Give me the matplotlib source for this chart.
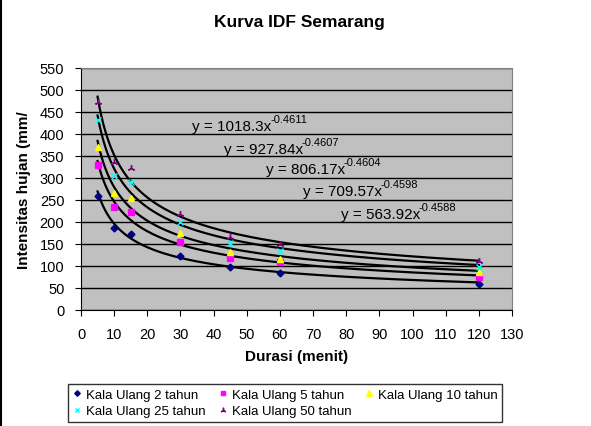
import matplotlib.pyplot as plt
import numpy as np
from matplotlib.lines import Line2D
from matplotlib.transforms import offset_copy

# durasi (menit)
durasi = [5, 10, 15, 30, 45, 60, 120]

# intensitas hujan tiap kala ulang
i_2th = [259, 186, 173, 123, 97, 84, 58]
i_5th = [329, 235, 222, 155, 119, 108, 74]
i_10th = [370, 265, 254, 174, 131, 117, 86]
i_25th = [432, 305, 292, 199, 152, 135, 97]
i_50th = [473, 336, 323, 218, 167, 149, 111]

label_seri = ['Kala Ulang 2 tahun', 'Kala Ulang 5 tahun', 'Kala Ulang 10 tahun',
              'Kala Ulang 25 tahun', 'Kala Ulang 50 tahun']

# koefisien trendline power y = a x^b
koef_a = [563.92, 709.57, 806.17, 927.84, 1018.3]
koef_b = [-0.4588, -0.4598, -0.4604, -0.4607, -0.4611]

plt.rcParams['font.family'] = ['Liberation Sans', 'DejaVu Sans']

fig = plt.figure(figsize=(5.91, 4.27), dpi=100)
ax = fig.add_axes([81 / 591, 1 - 311 / 427, (512 - 81) / 591, (311 - 69) / 427])
ax.set_facecolor('#C0C0C0')

data = [i_2th, i_5th, i_10th, i_25th, i_50th]
warna = ['#000080', '#FF00FF', '#FFFF00', '#00FFFF', '#800080']
marker = ['D', 's', '^', 'x', (3, 2, 0)]
ukuran = [3.5, 4, 5, 4, 5]

xs = np.linspace(5, 120, 200)
for a, b in zip(koef_a, koef_b):
    ax.plot(xs, a * xs ** b, color='black', lw=1.6, zorder=2)

handles = []
for y, c, m, s, lab in zip(data, warna, marker, ukuran, label_seri):
    ax.plot(durasi, y, linestyle='none', marker=m, color=c, markersize=s,
            markeredgewidth=1, zorder=3)
    handles.append(Line2D([], [], linestyle='none', marker=m, color=c,
                          markersize=s * 0.8, label=lab))

ax.set_xlim(0, 130)
ax.set_ylim(0, 550)

# label persamaan
pos_eq = [(78.4, 218), (67, 270), (55.8, 320), (43.2, 366), (33.6, 418)]
renderer = fig.canvas.get_renderer()
for (px, py), a, b in zip(pos_eq, koef_a, koef_b):
    t = ax.text(px, py, f'y = {a:g}x', fontsize=11, va='center', ha='left',
                zorder=4)
    bb = t.get_window_extent(renderer)
    x1, _ = ax.transData.inverted().transform((bb.x1 - 1.5, bb.y1))
    tr = offset_copy(ax.transData, fig=fig, x=0, y=5, units='points')
    ax.text(x1, py, f'{b:g}', fontsize=8, va='center', ha='left',
            transform=tr, zorder=4)

ax.set_xticks(np.arange(0, 131, 10))
ax.set_yticks(np.arange(0, 551, 50))
ax.grid(axis='y', color='black', lw=1)
ax.set_axisbelow(True)
ax.tick_params(labelsize=10.5, direction='out', length=4, color='black', pad=8)
for side in ['top', 'right']:
    ax.spines[side].set_color('#808080')
for side in ['left', 'bottom']:
    ax.spines[side].set_color('black')

ax.set_xlabel('Durasi (menit)', fontsize=11, fontweight='bold', labelpad=6)
ax.set_ylabel('Intensitas hujan (mm/', fontsize=11, fontweight='bold', labelpad=6)
fig.text(299 / 591, 1 - 22 / 427, 'Kurva IDF Semarang', fontsize=12.5,
         fontweight='bold', ha='center', va='center')

# urutan agar legenda terisi per baris
urut = [0, 3, 1, 4, 2]
leg = fig.legend(handles=[handles[i] for i in urut], loc='lower left',
                 bbox_to_anchor=(68 / 591, 4 / 427),
                 ncol=3, fontsize=9.5, frameon=True, fancybox=False,
                 handlelength=0.6, handletextpad=0.4, columnspacing=1.0,
                 borderpad=0.35, labelspacing=0.35, borderaxespad=0)
leg.get_frame().set_edgecolor('black')
leg.get_frame().set_linewidth(1)

fig.add_artist(Line2D([0.001, 0.001], [0, 1], color='black', lw=1.5,
                      transform=fig.transFigure))

fig.savefig('out.png', dpi=100)
